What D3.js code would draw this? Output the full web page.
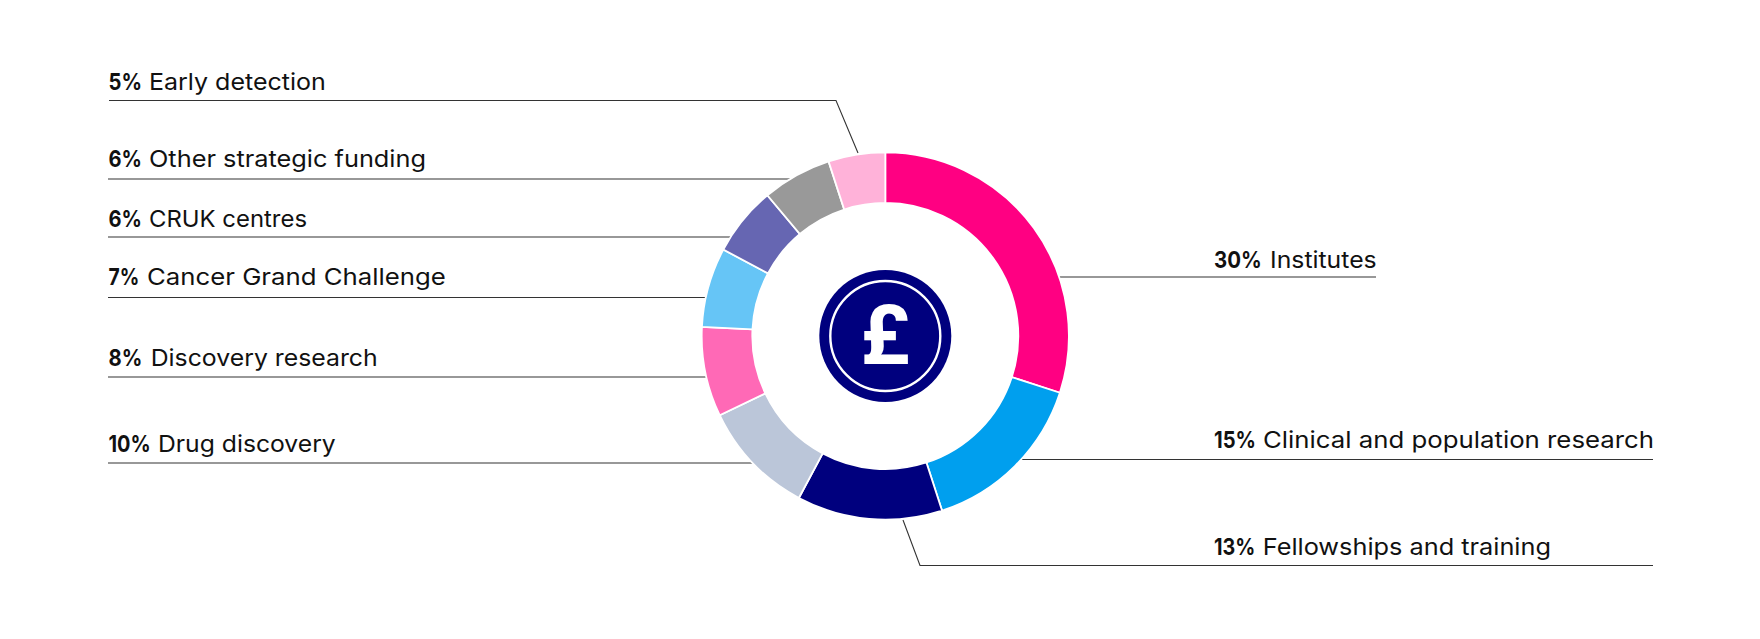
<!DOCTYPE html>
<html><head><meta charset="utf-8">
<script src="https://cdn.jsdelivr.net/npm/d3@7/dist/d3.min.js"></script>
<style>html,body{margin:0;padding:0;background:#fff}svg{display:block}</style>
</head><body><svg id="c" width="1760" height="639"></svg>
<script>
const categories=["Institutes","Clinical and population research","Fellowships and training","Drug discovery","Discovery research","Cancer Grand Challenge","CRUK centres","Other strategic funding","Early detection"];
const shares=[30,15,12.8,10.1,7.9,7,6.1,6.1,5];
const sliceColors=["#FF0082","#009FEE","#00007E","#BBC6D9","#FF69B6","#66C5F6","#6666B2","#999999","#FFB2D9"];
// label layout: percentage start/end, name start/end, baseline, rule y, rule far end, optional elbow
const pctX=[1214,1214,1214,108.5,108.5,108.5,108.5,108.5,108.5];
const pctEnd=[1261.7,1256,1255.3,150.7,142.3,139.3,142,142,142];
const nameX=[1270,1263,1262.7,158,150.7,147,149,149,149];
const nameEnd=[1376.7,1654,1551,335.7,377.7,445.7,307,426,325.7];
const baselineY=[267.5,447.5,554.5,451.7,365.7,285,226.5,166.5,90];
const ruleY=[277,459.5,565.5,463,377,297.5,237,179,100.5];
const ruleFarX=[1376,1653,1653,108,108,108,108,108,109];
const elbowX=[null,null,920,null,null,null,null,null,836];
const elbowEnd=[null,null,[903,520],null,null,null,null,null,[858,153]];

const cx=885.3,cy=336,R=183.6,r=133;
const svg=d3.select("#c");
const font="Inter, sans-serif";
const pie=d3.pie().sort(null).value(d=>d)(shares);
const arc=d3.arc().innerRadius(r).outerRadius(R);

const lines=svg.append("g").attr("fill","none").attr("stroke","#333").attr("stroke-width",1.1);
categories.forEach((c,i)=>{
  const y=ruleY[i];
  if(elbowX[i]!==null){
    lines.append("path").attr("d",d3.line()([[ruleFarX[i],y],[elbowX[i],y],elbowEnd[i]]));
  } else {
    const side=pctX[i]>cx?1:-1;
    const dy=y-cy;
    const edge=cx+side*Math.sqrt(R*R-dy*dy);
    lines.append("path").attr("d",d3.line()([[ruleFarX[i],y],[edge,y]]));
  }
});

svg.append("g").attr("transform",`translate(${cx},${cy})`).selectAll("path").data(pie).join("path")
  .attr("d",arc).attr("fill",(d,i)=>sliceColors[i]).attr("stroke","#fff").attr("stroke-width",1.8);

const t=svg.append("g").attr("font-family",font).attr("font-size",23.5).attr("fill","#111");
function fit(x,end,y,str,weight){
  t.append("text").attr("x",x).attr("y",y).attr("font-weight",weight)
   .attr("textLength",end-x).attr("lengthAdjust","spacingAndGlyphs").text(str);
}
categories.forEach((c,i)=>{
  fit(pctX[i],pctEnd[i],baselineY[i],Math.round(shares[i])+"%",700);
  fit(nameX[i],nameEnd[i],baselineY[i],c,400);
});

const badge=svg.append("g").attr("transform",`translate(${cx},${cy})`);
badge.append("circle").attr("r",66).attr("fill","#00007E");
badge.append("circle").attr("r",55).attr("fill","none").attr("stroke","#fff").attr("stroke-width",2.4);
badge.append("text").attr("text-anchor","middle").attr("y",28).attr("font-family","Roboto, sans-serif").attr("font-weight",700).attr("font-size",84).attr("fill","#fff").text("£");
</script></body></html>
